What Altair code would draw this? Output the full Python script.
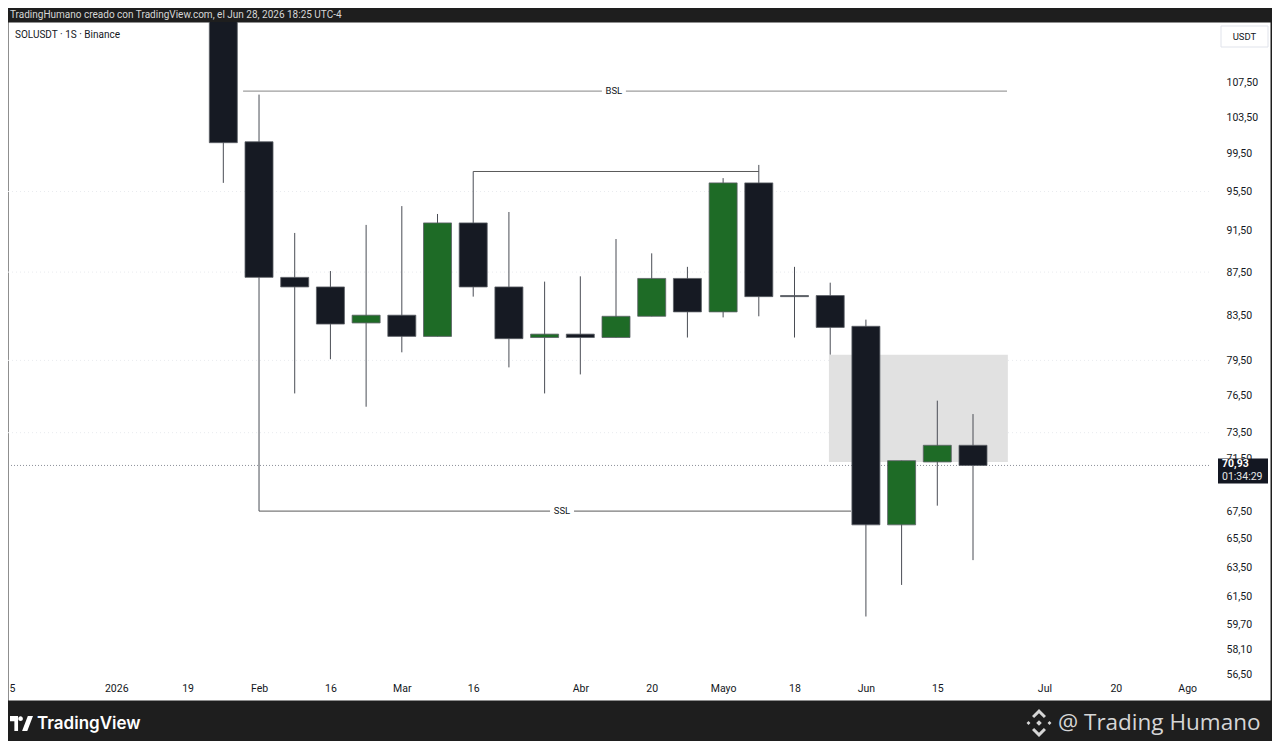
import altair as alt
import pandas as pd

# ---------------- data (weekly SOLUSDT candles) ----------------
weeks = ["2026-01-26", "2026-02-02", "2026-02-09", "2026-02-16", "2026-02-23", "2026-03-02",
         "2026-03-09", "2026-03-16", "2026-03-23", "2026-03-30", "2026-04-06", "2026-04-13",
         "2026-04-20", "2026-04-27", "2026-05-04", "2026-05-11", "2026-05-18", "2026-05-25",
         "2026-06-01", "2026-06-08", "2026-06-15", "2026-06-22"]
opens = [117.0, 100.8, 87.0, 86.1, 82.8, 83.5, 81.6, 92.3, 86.1, 81.5, 81.8, 81.5,
         83.4, 86.9, 83.8, 96.4, 85.3, 85.3, 82.5, 66.5, 71.2, 72.5]
highs = [119.0, 106.1, 91.3, 87.6, 92.1, 94.0, 93.2, 97.6, 93.4, 86.6, 87.1, 90.7,
         89.3, 88.0, 96.9, 98.3, 88.0, 86.5, 83.1, 71.3, 76.1, 75.0]
lows = [96.4, 67.5, 76.7, 79.6, 75.6, 80.2, 81.6, 85.2, 78.9, 76.7, 78.3, 81.5,
        83.4, 81.5, 83.3, 83.4, 81.5, 80.0, 60.2, 62.3, 67.9, 64.0]
closes = [100.7, 87.0, 86.1, 82.7, 83.5, 81.6, 92.3, 86.1, 81.4, 81.8, 81.5, 83.4,
          86.9, 83.8, 96.4, 85.2, 85.2, 82.4, 66.5, 71.3, 72.5, 70.93]

# liquidity levels
bsl_price = [106.5]
bsl_start = ["2026-01-29T21:00:00Z"]
bsl_end = ["2026-06-28T16:00:00Z"]
bsl_label_at = ["2026-04-12T14:00:00Z"]

ssl_price = [67.5]
ssl_start = ["2026-02-02T00:00:00Z"]
ssl_end = ["2026-05-29T02:00:00Z"]
ssl_label_at = ["2026-04-02T10:00:00Z"]

high_line_price = [97.6]
high_line_start = ["2026-03-16T00:00:00Z"]
high_line_end = ["2026-05-11T00:00:00Z"]

# grey zone
zone_start = ["2026-05-24T18:00:00Z"]
zone_end = ["2026-06-28T20:00:00Z"]
zone_top = [80.0]
zone_bottom = [71.2]

grid_values = [95.5, 87.5, 79.5, 73.5]

y_ticks = [107.5, 103.5, 99.5, 95.5, 91.5, 87.5, 83.5, 79.5, 76.5, 73.5, 71.5,
           67.5, 65.5, 63.5, 61.5, 59.7, 58.1, 56.5]
x_tick_dates = ["2025-12-15", "2026-01-05", "2026-01-19", "2026-02-02", "2026-02-16",
                "2026-03-02", "2026-03-16", "2026-04-06", "2026-04-20", "2026-05-04",
                "2026-05-18", "2026-06-01", "2026-06-15", "2026-07-06", "2026-07-20",
                "2026-08-03"]
x_tick_labels = ["5", "2026", "19", "Feb", "16", "Mar", "16", "Abr", "20", "Mayo", "18",
                 "Jun", "15", "Jul", "20", "Ago"]

countdown = ["01:34:29"]

# ---------------- styles ----------------
FONT = "Roboto"
UP = "#1e6b26"
DOWN = "#161a23"
WICK = "#4a4d55"
BODY_STROKE = "#5c5f66"
TEXT = "#131722"

W, H = 1262, 678          # view (white panel)
PW, PH = 1202, 658        # plotting region inside it

candles = pd.DataFrame({"week": weeks, "open": opens, "high": highs,
                        "low": lows, "close": closes})
candles["dir"] = ["up" if c > o else "down" for o, c in zip(opens, closes)]


def xdt(s, h=0, mi=0):
    y, m, d = (int(p) for p in s.split("-"))
    return alt.DateTime(year=y, month=m, date=d, hours=h, minutes=mi, utc=True)


x_scale = alt.Scale(type="utc", domain=[xdt("2025-12-14", 18, 43), xdt("2026-08-07", 11, 17)],
                    range=[0, PW], padding=0)
y_scale = alt.Scale(type="log", domain=[56.19, 114.8], range=[PH, 0], nice=False, padding=0)

keys = "[" + ",".join("'%s'" % k for k in x_tick_dates) + "]"
labs = "[" + ",".join("'%s'" % l for l in x_tick_labels) + "]"
x_axis = alt.Axis(
    orient="bottom", values=[xdt(d) for d in x_tick_dates],
    labelExpr=f"{labs}[indexof({keys}, utcFormat(datum.value, '%Y-%m-%d'))]",
    offset=-(H - PH), labelPadding=3, ticks=False, domain=False, grid=False, title=None,
    labelFlush=5, labelOverlap=False, labelColor=TEXT, labelFontSize=10.5, labelFont=FONT,
    labelFontWeight={"condition": {"test": "datum.label == '2026'", "value": "bold"},
                     "value": "normal"},
    zindex=1,
)
y_axis = alt.Axis(
    orient="right", values=y_ticks,
    labelExpr="replace(format(datum.value, '.2f'), '.', ',')",
    offset=-(W - PW), labelPadding=16, ticks=False, domain=False, grid=False, title=None,
    labelAlign="left", labelOverlap=False, labelColor=TEXT, labelFontSize=10.5, labelFont=FONT,
    zindex=0,
)


def X(field):
    return alt.X(field, type="temporal", scale=x_scale, axis=x_axis)


def Y(field):
    return alt.Y(field, type="quantitative", scale=y_scale, axis=y_axis)


# grid
grid = alt.Chart(pd.DataFrame({"v": grid_values})).mark_rule(
    color="#e9ebef", strokeDash=[1, 3], strokeWidth=1
).encode(y=Y("v"), x=alt.value(0), x2=alt.value(PW))

# grey zone
zone = alt.Chart(pd.DataFrame({"s": zone_start, "e": zone_end, "t": zone_top, "b": zone_bottom})
                 ).mark_rect(color="#e1e1e1").encode(x=X("s"), x2="e", y=Y("t"), y2="b")

# current price dotted line
price_df = pd.DataFrame({"p": [closes[-1]],
                         "lab": [f"{closes[-1]:.2f}".replace(".", ",")],
                         "cd": countdown})
price_line = alt.Chart(price_df).mark_rule(color="#8d9099", strokeDash=[1, 2]).encode(
    y=Y("p"), x=alt.value(0), x2=alt.value(PW))

# level lines
bsl_df = pd.DataFrame({"s": bsl_start, "e": bsl_end, "p": bsl_price, "at": bsl_label_at, "t": ["BSL"]})
ssl_df = pd.DataFrame({"s": ssl_start, "e": ssl_end, "p": ssl_price, "at": ssl_label_at, "t": ["SSL"]})
hl_df = pd.DataFrame({"s": high_line_start, "e": high_line_end, "p": high_line_price})

bsl_line = alt.Chart(bsl_df).mark_rule(color="#9e9e9e", strokeWidth=1.2).encode(
    x=X("s"), x2="e", y=Y("p"))
ssl_line = alt.Chart(ssl_df).mark_rule(color="#5a5a5a", strokeWidth=1).encode(
    x=X("s"), x2="e", y=Y("p"))
hl_line = alt.Chart(hl_df).mark_rule(color="#5a5a5a", strokeWidth=1).encode(
    x=X("s"), x2="e", y=Y("p"))

label_df = pd.concat([bsl_df, ssl_df], ignore_index=True)
label_bg = alt.Chart(label_df).mark_point(
    shape="M-1,-0.45L1,-0.45L1,0.45L-1,0.45Z", size=576, filled=True, fill="white",
    strokeWidth=0, opacity=1
).encode(x=X("at"), y=Y("p"))
label_txt = alt.Chart(label_df).mark_text(font=FONT, fontSize=9.5, color=TEXT).encode(
    x=X("at"), y=Y("p"), text="t:N")

# candles
wicks = alt.Chart(candles).mark_rule(color=WICK, strokeWidth=1, clip=True).encode(
    x=X("week"), y=Y("low"), y2="high")
bodies = alt.Chart(candles).mark_bar(width=28, stroke=BODY_STROKE, strokeWidth=0.8,
                                     clip=True, opacity=1).encode(
    x=X("week"),
    y=Y("open"),
    y2="close",
    color=alt.Color("dir:N", scale=alt.Scale(domain=["up", "down"], range=[UP, DOWN]),
                    legend=None),
)

# price box on the axis
price_box = alt.Chart(price_df).mark_point(
    shape="M-1,-0.5L1,-0.5L1,0.5L-1,0.5Z", size=2500, filled=True, fill="#131722",
    strokeWidth=0, opacity=1, yOffset=5.5
).encode(x=alt.value(1235), y=Y("p"))
price_txt = alt.Chart(price_df).mark_text(font=FONT, fontSize=10.5, fontWeight="bold",
                                          color="white", align="left", dy=-1).encode(
    x=alt.value(1214), y=Y("p"), text="lab:N")
cd_txt = alt.Chart(price_df).mark_text(font=FONT, fontSize=10.5, color="#e6e6e6",
                                       align="left", dy=12).encode(
    x=alt.value(1214), y=Y("p"), text="cd:N")

# decorations
deco = pd.DataFrame({
    "top": ["TradingHumano creado con TradingView.com, el Jun 28, 2026 18:25 UTC-4"],
    "sym": ["SOLUSDT · 1S · Binance"],
    "cur": ["USDT"],
    "tv": ["TradingView"],
    "th": ["@ Trading Humano"],
})
top_txt = alt.Chart(deco).mark_text(font=FONT, fontSize=10, color="#d6d6d6", align="left").encode(
    x=alt.value(2), y=alt.value(-7), text="top:N")
sym_txt = alt.Chart(deco).mark_text(font=FONT, fontSize=10, color=TEXT, align="left").encode(
    x=alt.value(7), y=alt.value(13), text="sym:N")
usdt_box = alt.Chart(deco).mark_point(
    shape="M-1,-0.447L1,-0.447L1,0.447L-1,0.447Z", size=2209, filled=True, fill="white",
    stroke="#e0e3eb", strokeWidth=1, opacity=1
).encode(x=alt.value(1236.5), y=alt.value(14.5))
usdt_txt = alt.Chart(deco).mark_text(font=FONT, fontSize=9.5, color=TEXT).encode(
    x=alt.value(1236.5), y=alt.value(14.5), text="cur:N")

tv_logo = alt.Chart(deco).mark_point(
    shape=("M-1,-0.65L-0.3,-0.65L-0.3,0.65L-0.62,0.65L-0.62,-0.2L-1,-0.2Z "
           "M-0.28,-0.42A0.2,0.2 0 1,0 0.12,-0.42A0.2,0.2 0 1,0 -0.28,-0.42Z "
           "M0.05,0.65L0.55,-0.65L1,-0.65L0.5,0.65Z"),
    size=529, filled=True, fill="white", strokeWidth=0, opacity=1
).encode(x=alt.value(13.5), y=alt.value(701.5))
tv_txt = alt.Chart(deco).mark_text(font="Inter", fontSize=17, fontWeight=600, color="white",
                                   align="left").encode(
    x=alt.value(29), y=alt.value(701.5), text="tv:N")
bn_logo = alt.Chart(deco).mark_point(
    shape=("M0,-1L0.5,-0.5L0.35,-0.35L0,-0.7L-0.35,-0.35L-0.5,-0.5Z "
           "M0,1L0.5,0.5L0.35,0.35L0,0.7L-0.35,0.35L-0.5,0.5Z "
           "M0,-0.2L0.2,0L0,0.2L-0.2,0Z "
           "M-0.75,-0.14L-0.61,0L-0.75,0.14L-0.89,0Z "
           "M0.75,-0.14L0.89,0L0.75,0.14L0.61,0Z"),
    size=784, filled=True, fill="#d6d6d6", strokeWidth=0, opacity=1
).encode(x=alt.value(1031), y=alt.value(701))
th_txt = alt.Chart(deco).mark_text(font="Open Sans", fontSize=22.5, color="#d6d6d6",
                                   align="left").encode(
    x=alt.value(1050), y=alt.value(701), text="th:N")

chart = alt.layer(
    grid, zone, price_line, bsl_line, ssl_line, hl_line, label_bg, label_txt,
    wicks, bodies, price_box, price_txt, cd_txt,
    top_txt, sym_txt, usdt_box, usdt_txt, tv_logo, tv_txt, bn_logo, th_txt,
).properties(
    width=W, height=H,
    padding={"left": 0, "top": 14, "right": 2, "bottom": 41},
    autosize=alt.AutoSizeParams(type="none"),
    background="#1e1e1e",
).configure_view(fill="white", stroke="transparent")

chart.save("out.html", embed_options={"renderer": "svg", "actions": False})
